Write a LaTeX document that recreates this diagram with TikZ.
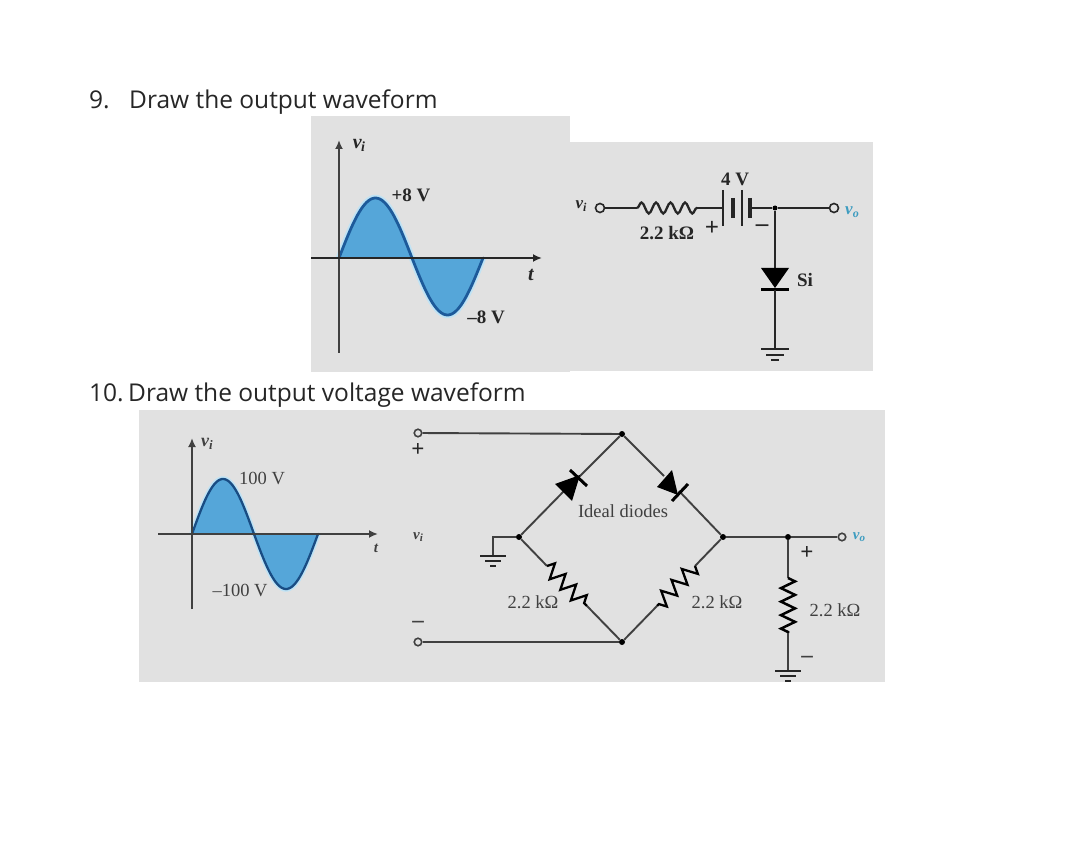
\documentclass[tikz,border=0pt]{standalone}
\usepackage{fontspec}
\setmainfont{Liberation Serif}
\newfontfamily\headfont{Open Sans}
\usetikzlibrary{arrows.meta,calc,decorations.pathmorphing}
\definecolor{panel}{HTML}{E1E1E1}
\definecolor{wave}{HTML}{1D5A9A}
\definecolor{wavefill}{HTML}{55A6D9}
\definecolor{halo}{HTML}{BFE3F5}
\definecolor{ink}{HTML}{262626}
\definecolor{softink}{HTML}{404040}
\definecolor{vocolor}{HTML}{3D9CC0}
\tikzset{
  heading/.style={font=\headfont\fontsize{24.5}{30}\selectfont,text=ink,anchor=base west,inner sep=0pt},
  lab/.style={font=\bfseries\fontsize{19}{21}\selectfont,text=ink,inner sep=0pt},
  softlab/.style={font=\fontsize{18.5}{21}\selectfont,text=softink,inner sep=0pt},
  varlab/.style={font=\bfseries\itshape\fontsize{20}{22}\selectfont,text=ink,inner sep=0pt},
  signlab/.style={font=\bfseries\fontsize{25}{25}\selectfont,text=ink,inner sep=0pt},
  wire/.style={draw=ink,line width=2pt},
  softwire/.style={draw=softink,line width=1.9pt},
  axis/.style={draw=softink,line width=2.1pt,-{Latex[length=9pt,width=8pt]}},
  term/.style={circle,draw=ink,fill=panel,line width=1.6pt,minimum size=9pt,inner sep=0pt},
  softterm/.style={circle,draw=softink,fill=panel,line width=1.6pt,minimum size=7.5pt,inner sep=0pt},
  dotn/.style={circle,fill=black,minimum size=6pt,inner sep=0pt},
  snakeres/.style={draw=ink,line width=2.3pt,decorate,decoration={snake,segment length=14.5pt,amplitude=5.5pt}},
  zigres/.style={draw=black,line width=2.3pt,decorate,decoration={zigzag,segment length=15pt,amplitude=7.5pt}},
  vzigres/.style={draw=black,line width=2.5pt,decorate,decoration={zigzag,segment length=13.5pt,amplitude=7pt}},
  hump/.style={wave,line width=2.8pt,line cap=round},
  gbar/.style={draw=ink,line width=2.6pt},
}
\begin{document}
\begin{tikzpicture}[x=1pt,y=-1pt]
\useasboundingbox (0,0) rectangle (1080,845);
\fill[white] (0,0) rectangle (1080,845);
% panels
\fill[panel] (311,116) rectangle (570,372);
\fill[panel] (570,142) rectangle (873,371);
\fill[panel] (139,410) rectangle (885,682);
% headings
\node[heading] (h9) at (89,109) {\makebox[40pt][l]{9.}Draw the output waveform};
\node[heading] (h10) at (89,401) {\makebox[39pt][l]{10.}Draw the output voltage waveform};

% ---------- graph 1
\draw[halo,line width=6.5pt] plot[domain=0:360,samples=80] ({\x<180 ? 339+\x/180*73 : 412+(\x-180)/180*71},{258-(\x<180 ? 60 : 57)*sin(\x)});
\fill[wavefill] plot[domain=0:180,samples=40] ({339+\x/180*73},{258-60*sin(\x)}) -- cycle;
\fill[wavefill] plot[domain=0:180,samples=40] ({412+\x/180*71},{258+57*sin(\x)}) -- cycle;
\draw[hump] plot[domain=0:360,samples=80] ({\x<180 ? 339+\x/180*73 : 412+(\x-180)/180*71},{258-(\x<180 ? 60 : 57)*sin(\x)});
\coordinate (a1t) at (339,140); \coordinate (a1b) at (339,353);
\coordinate (a2l) at (311,258); \coordinate (a2r) at (542,258);
\draw[axis] (a1b) -- (a1t);
\draw[axis,draw=ink] (a2l) -- (a2r);
\node[varlab] (vi1) at (359,145) {v\kern-0.5pt\raisebox{-3pt}{\fontsize{14}{14}\selectfont i}};
\node[varlab] (t1) at (531,275) {t};
\node[lab] (p8) at (411,195) {+8 V};
\node[lab] (m8) at (486,317) {–8 V};

% ---------- circuit 1
\node[term] (vin) at (600,208) {};
\node[term] (vout) at (834,208) {};
\node[dotn,minimum size=5pt] (j1) at (775,208) {};
\coordinate (r1a) at (637,208); \coordinate (r1b) at (697,208);
\coordinate (b1) at (723,208); \coordinate (b4) at (750,208);
\coordinate (d1t) at (775,268); \coordinate (d1b) at (775,290);
\coordinate (g1) at (775,348);
\draw[wire] (vin) -- (r1a);
\draw[snakeres] (r1a) -- (r1b);
\draw[wire] (r1b) -- (b1);
\draw[wire] (b4) -- (j1);
\draw[wire] (j1) -- (vout);
\draw[draw=ink,line width=1.6pt] (723,190) -- (723,226);
\draw[draw=ink,line width=3.5pt] (733,198) -- (733,218);
\draw[draw=ink,line width=1.6pt] (742,190) -- (742,226);
\draw[draw=ink,line width=3.5pt] (750,198) -- (750,218);
\draw[wire] (j1) -- (d1t);
\fill[black] (761,268) -- (789,268) -- (775,288) -- cycle;
\draw[draw=black,line width=3pt] (761,290) -- (789,290);
\draw[wire] (d1b) -- (g1);
\draw[gbar] (761,349) -- (789,349);
\draw[gbar] (766,355) -- (784,355);
\draw[gbar] (771,360) -- (779,360);
\node[lab] (l4v) at (735,179) {4 V};
\node[lab] (lr1) at (667,233) {2.2 kΩ};
\node[signlab] (pl1) at (712,228) {+};
\node[signlab] (mi1) at (762,228) {–};
\node[lab] (si) at (805,280) {Si};
\node[varlab,font=\bfseries\itshape\fontsize{17}{18}\selectfont] (lvi) at (581,206) {v\raisebox{-2.5pt}{\fontsize{12}{12}\selectfont i}};
\node[varlab,font=\bfseries\itshape\fontsize{17}{18}\selectfont,text=vocolor] (lvo) at (852,212) {v\raisebox{-2.5pt}{\fontsize{12}{12}\selectfont o}};

% ---------- graph 2
\draw[halo,line width=5.5pt] plot[domain=0:360,samples=80] ({\x<180 ? 192+\x/180*62 : 254+(\x-180)/180*64},{534-55*sin(\x)});
\fill[wavefill] plot[domain=0:180,samples=40] ({192+\x/180*62},{534-55*sin(\x)}) -- cycle;
\fill[wavefill] plot[domain=0:180,samples=40] ({254+\x/180*64},{534+55*sin(\x)}) -- cycle;
\draw[hump,line width=2.3pt,draw=wave!85!black] plot[domain=0:360,samples=80] ({\x<180 ? 192+\x/180*62 : 254+(\x-180)/180*64},{534-55*sin(\x)});
\coordinate (c1t) at (192,438); \coordinate (c1b) at (192,609);
\coordinate (c2l) at (158,534); \coordinate (c2r) at (378,534);
\draw[axis] (c1b) -- (c1t);
\draw[axis] (c2l) -- (c2r);
\node[varlab,text=softink,font=\bfseries\itshape\fontsize{18}{18}\selectfont] (vi2) at (207,444) {v\raisebox{-2.5pt}{\fontsize{13}{13}\selectfont i}};
\node[varlab,text=softink,font=\bfseries\itshape\fontsize{15}{15}\selectfont] (t2) at (376,548) {t};
\node[softlab] (p100) at (262,478) {100 V};
\node[softlab] (m100) at (240,590) {–100 V};

% ---------- bridge
\node[softterm] (it) at (418,433) {};
\node[softterm] (ib) at (418,642) {};
\node[signlab,font=\bfseries\fontsize{23}{23}\selectfont] (ip) at (418,450) {+};
\node[signlab,font=\bfseries\fontsize{23}{23}\selectfont,text=softink] (im) at (418,624) {–};
\node[varlab,text=softink,font=\bfseries\itshape\fontsize{15}{15}\selectfont] (ivi) at (418,537) {v\raisebox{-2pt}{\fontsize{11}{11}\selectfont i}};
\node[dotn] (top) at (622,434) {};
\node[dotn] (left) at (519,537) {};
\node[dotn] (right) at (723,537) {};
\node[dotn] (bot) at (622,642) {};
\node[dotn] (ojun) at (788,537) {};
\node[softterm] (vo2) at (842,537) {};
\draw[softwire] (it) -- (top);
\draw[softwire] (ib) -- (bot);
\draw[softwire] (ojun) -- (vo2);
\draw[softwire] (right) -- (ojun);
% diodes
\coordinate (dla) at (565,490); \coordinate (dlc) at (578,478);
\coordinate (dra) at (664,476); \coordinate (drc) at (679,491);
\draw[softwire] (left) -- (dla);
\draw[softwire] (dlc) -- (top);
\draw[softwire] (top) -- (dra);
\draw[softwire] (drc) -- (right);
\fill[black] (555,484) -- (572,501) -- (580,475) -- cycle;
\draw[draw=black,line width=3pt] (570,470) -- (587,486);
\fill[black] (657,487) -- (672,470) -- (678,495) -- cycle;
\draw[draw=black,line width=3pt] (672,501) -- (688,484);
% bridge resistors
\coordinate (rla) at (547,566); \coordinate (rlb) at (587,606);
\coordinate (rra) at (695,566); \coordinate (rrb) at (657,606);
\coordinate (roa) at (788,578); \coordinate (rob) at (788,633);
\draw[softwire] (left) -- (rla);
\draw[zigres] (rla) -- (rlb);
\draw[softwire] (rlb) -- (bot);
\draw[softwire] (right) -- (rra);
\draw[zigres] (rra) -- (rrb);
\draw[softwire] (rrb) -- (bot);
\draw[softwire] (ojun) -- (roa);
\draw[vzigres] (roa) -- (rob);
\coordinate (go) at (788,670);
\draw[softwire] (rob) -- (go);
\draw[gbar] (775,671) -- (801,671);
\draw[gbar] (780,676) -- (796,676);
\draw[gbar] (785,681) -- (791,681);
% left ground
\coordinate (gl) at (493,537); \coordinate (gl2) at (493,555);
\draw[softwire] (left) -- (gl) -- (gl2);
\draw[gbar] (480,556) -- (506,556);
\draw[gbar] (485,561) -- (501,561);
\draw[gbar] (490,566) -- (496,566);
\node[softlab] (ideal) at (623,511) {Ideal diodes};
\node[softlab] (r1l) at (533,602) {2.2 kΩ};
\node[softlab] (r2l) at (717,602) {2.2 kΩ};
\node[softlab] (r3l) at (835,610) {2.2 kΩ};
\node[signlab,font=\bfseries\fontsize{23}{23}\selectfont] (op) at (807,553) {+};
\node[signlab,font=\bfseries\fontsize{23}{23}\selectfont,text=softink] (om) at (807,659) {–};
\node[varlab,text=vocolor,font=\bfseries\itshape\fontsize{15}{15}\selectfont] (vo2l) at (859,537) {v\raisebox{-2pt}{\fontsize{11}{11}\selectfont o}};
\end{tikzpicture}
\end{document}
